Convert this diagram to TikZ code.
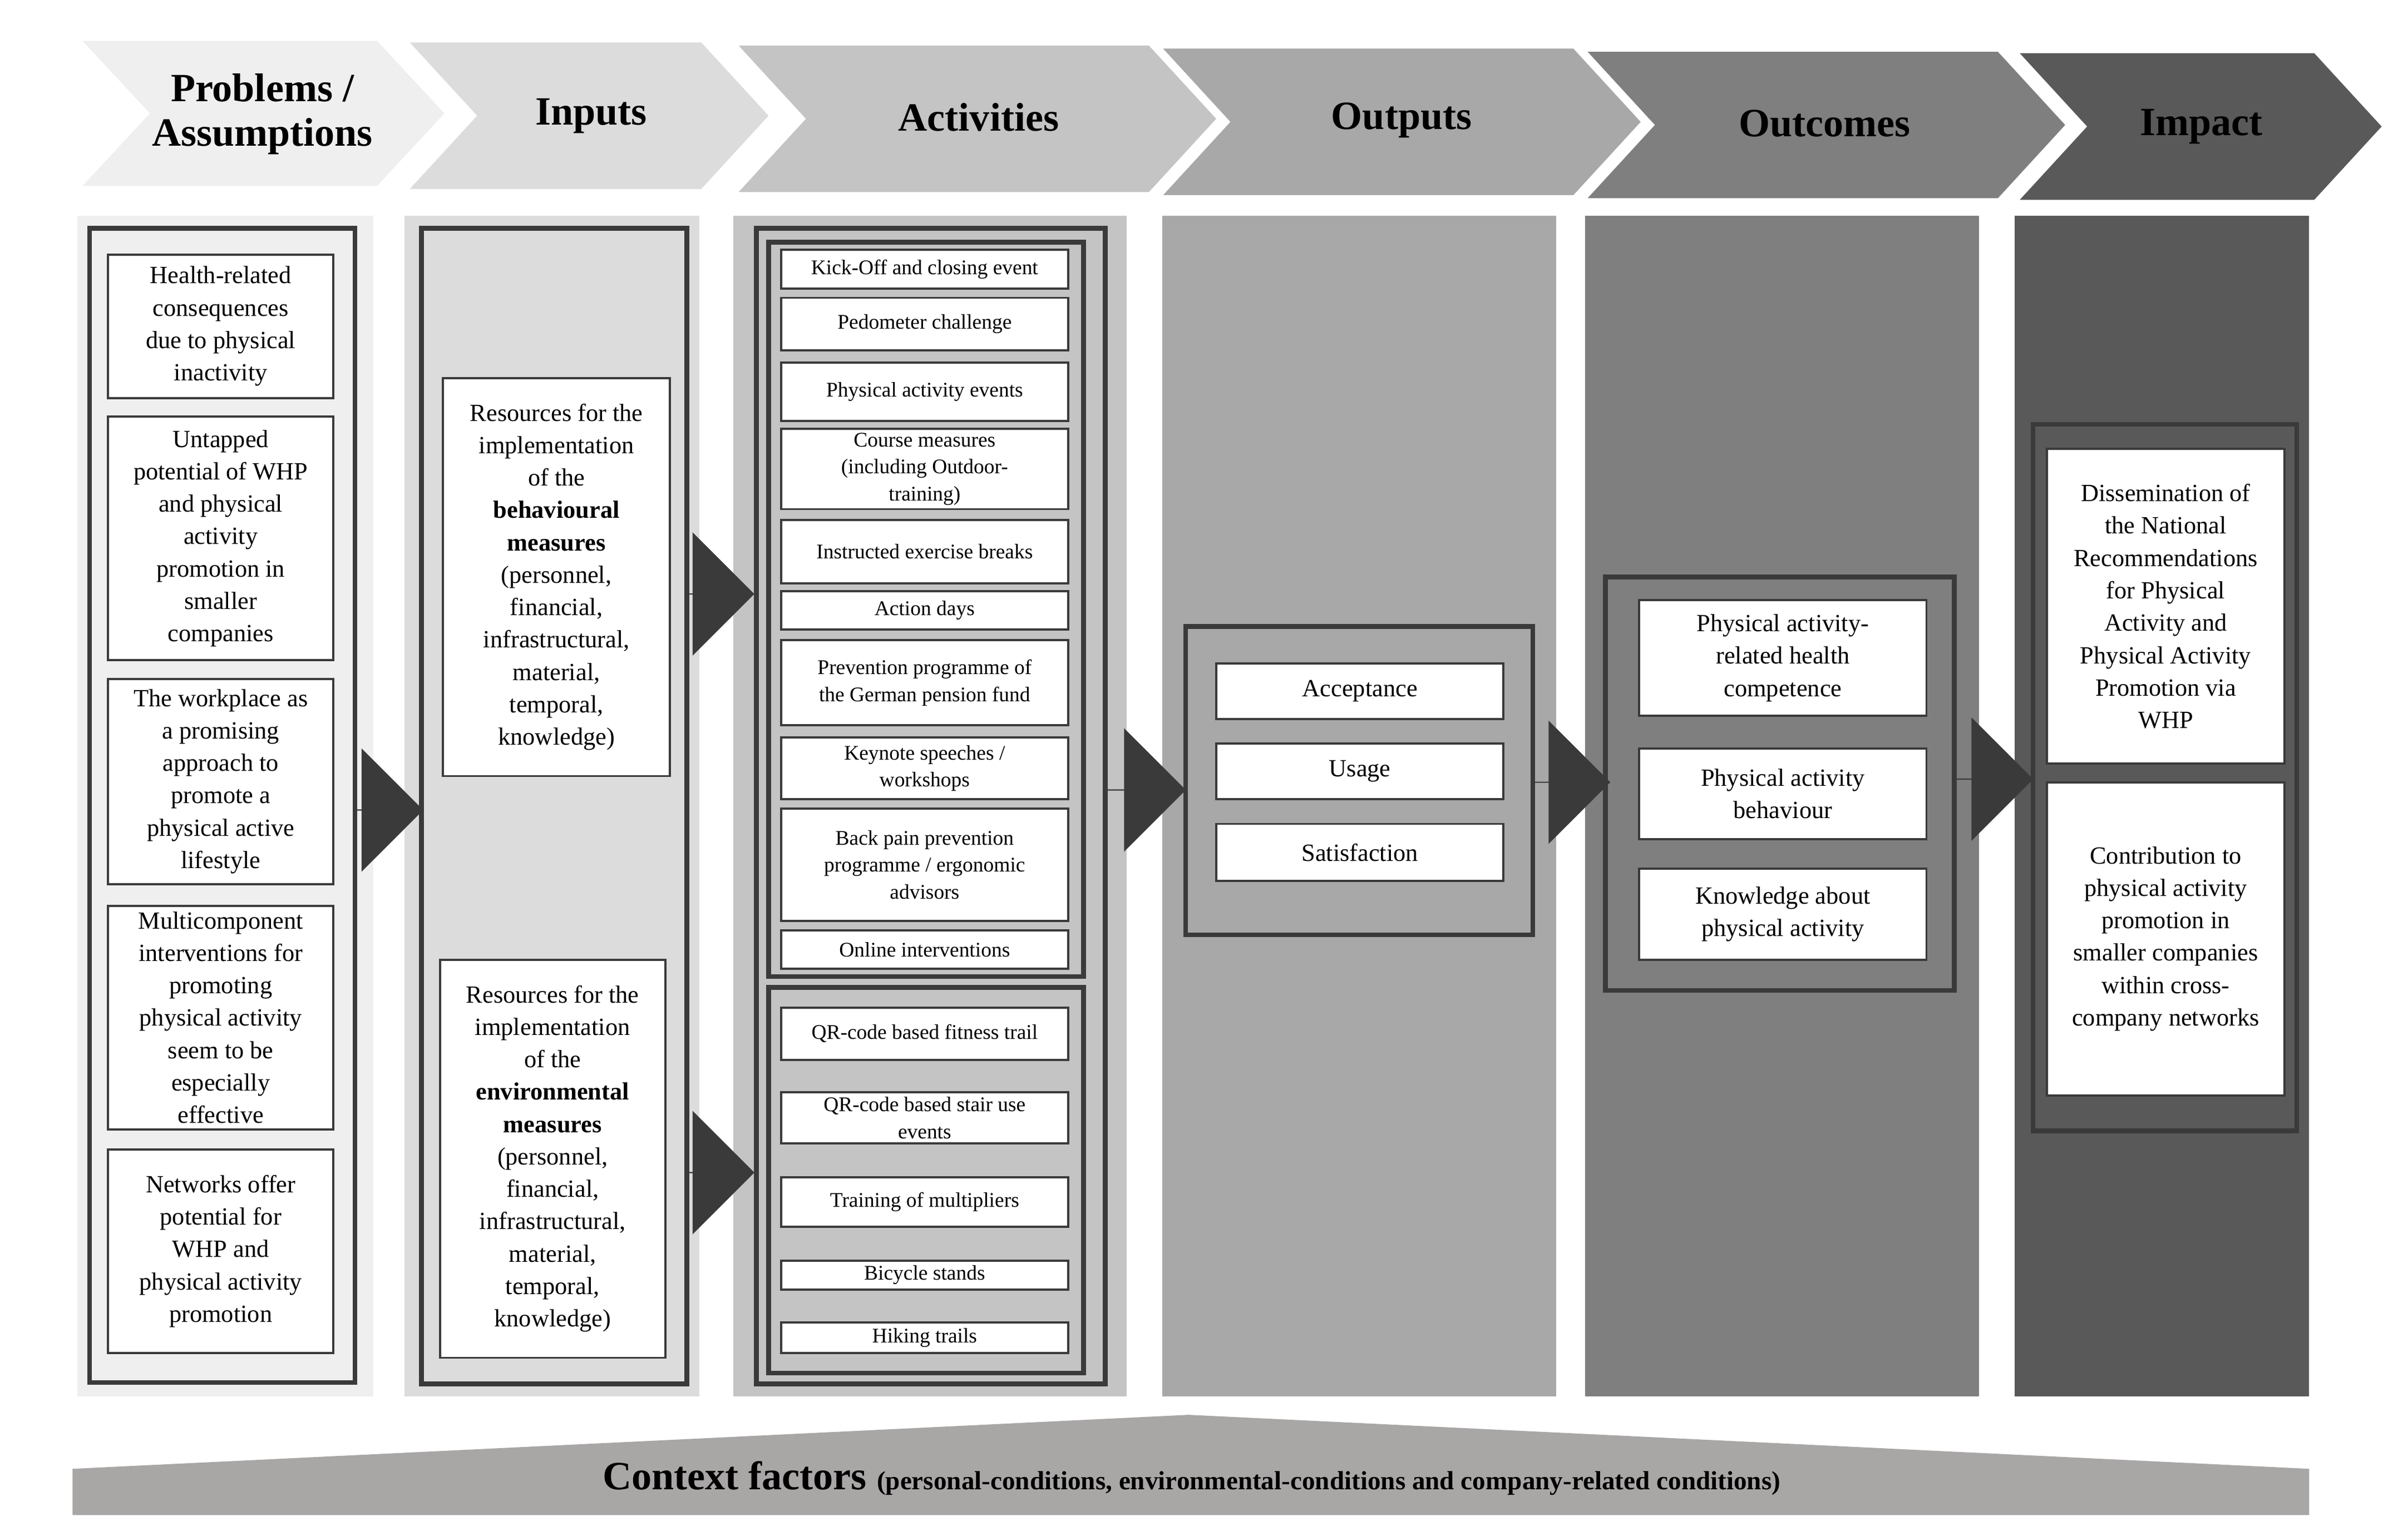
\documentclass[tikz,border=0pt]{standalone}
\usepackage{fontspec}
\setmainfont{Liberation Serif}
\usetikzlibrary{shapes.arrows}
\definecolor{c1}{HTML}{EFEFEF}\definecolor{c2}{HTML}{DCDCDC}\definecolor{c3}{HTML}{C4C4C4}
\definecolor{c4}{HTML}{A8A8A8}\definecolor{c5}{HTML}{7F7F7F}\definecolor{c6}{HTML}{595959}
\definecolor{dk}{HTML}{3A3A3A}\definecolor{ctx}{HTML}{A9A6A6}
\newcommand{\bx}[7][]{\node[box,#1,minimum width={(#4-#2)*1pt},minimum height={(#5-#3)*1pt}] (#6) at ({(#2+#4)/2},{(#3+#5)/2}) {#7};}
\newcommand{\chev}[6]{\fill[#5,draw=white,line width=3pt] (#1,#3)--({#2-45},#3)--(#2,{(#3+#4)/2})--({#2-45},#4)--(#1,#4)--({#1+45},{(#3+#4)/2})--cycle;
 \node[title] (t#6) at ({(#1+#2)/2+10},{(#3+#4)/2}) {};}
\begin{document}
\begin{tikzpicture}[x=1pt,y=-1pt,
 box/.style={draw=dk,line width=1.4pt,fill=white,align=center,inner sep=0pt,font=\fontsize{16}{21}\selectfont},
 sbox/.style={box,font=\fontsize{13.5}{17.5}\selectfont},
 frame/.style={draw=dk,line width=3pt,inner sep=0pt},
 title/.style={font=\fontsize{26}{29}\bfseries\selectfont,align=center},
 barr/.style={single arrow,fill=dk,draw=none,minimum height=45pt,minimum width=80pt,single arrow head extend=20pt,inner sep=0pt,text height=0pt,text depth=0pt,shape border rotate=0}]
\useasboundingbox (0,0) rectangle (1560,992);
\fill[white] (0,0) rectangle (1560,992);
% chevrons
\chev{50}{290}{25}{122}{c1}{1}
\chev{262}{500}{26}{124}{c2}{2}
\chev{475}{790}{28}{126}{c3}{3}
\chev{750}{1065}{30}{128}{c4}{4}
\chev{1025}{1340}{32}{130}{c5}{5}
\chev{1305}{1545}{33}{131}{c6}{6}
\node[title] at (170,74) {Problems /\\Assumptions};
\node[title] at (383,75) {Inputs};
\node[title] at (634,76) {Activities};
\node[title] at (908,78) {Outputs};
\node[title] at (1182,80) {Outcomes};
\node[title] at (1426,82) {Impact};
% column panels
\fill[c1] (50,140) rectangle (242,905);
\fill[c2] (262,140) rectangle (453,905);
\fill[c3] (475,140) rectangle (730,905);
\fill[c4] (753,140) rectangle (1008,905);
\fill[c5] (1027,140) rectangle (1282,905);
\fill[c6] (1305,140) rectangle (1496,905);
% frames
\node[frame,minimum width=172pt,minimum height=748pt] (f1) at (144,522) {};
\node[frame,minimum width=172pt,minimum height=749pt] (f2) at (359,522.5) {};
\node[frame,minimum width=226pt,minimum height=749pt] (f3) at (603,522.5) {};
\node[frame,minimum width=204pt,minimum height=476pt] (f3a) at (600,395) {};
\node[frame,minimum width=204pt,minimum height=250pt] (f3b) at (600,765) {};
\node[frame,minimum width=225pt,minimum height=200pt] (f4) at (880.5,506) {};
\node[frame,minimum width=226pt,minimum height=268pt] (f5) at (1153,508) {};
\node[frame,minimum width=171pt,minimum height=458pt] (f6) at (1402.5,504) {};
% column 1
\bx{70}{165}{216}{258}{p1}{Health-related\\consequences\\due to physical\\inactivity}
\bx{70}{270}{216}{428}{p2}{Untapped\\potential of WHP\\and physical\\activity\\promotion in\\smaller\\companies}
\bx{70}{440}{216}{573}{p3}{The workplace as\\a promising\\approach to\\promote a\\physical active\\lifestyle}
\bx{70}{587}{216}{732}{p4}{Multicomponent\\interventions for\\promoting\\physical activity\\seem to be\\especially\\effective}
\bx{70}{745}{216}{877}{p5}{Networks offer\\potential for\\WHP and\\physical activity\\promotion}
% column 2
\bx{287}{245}{434}{503}{i1}{Resources for the\\implementation\\of the\\\textbf{behavioural}\\\textbf{measures}\\(personnel,\\financial,\\infrastructural,\\material,\\temporal,\\knowledge)}
\bx{285}{622}{431}{880}{i2}{Resources for the\\implementation\\of the\\\textbf{environmental}\\\textbf{measures}\\(personnel,\\financial,\\infrastructural,\\material,\\temporal,\\knowledge)}
% column 3
\bx[sbox]{506}{162}{692}{187}{a1}{Kick-Off and closing event}
\bx[sbox]{506}{193}{692}{227}{a2}{Pedometer challenge}
\bx[sbox]{506}{235}{692}{273}{a3}{Physical activity events}
\bx[sbox]{506}{278}{692}{330}{a4}{Course measures\\(including Outdoor-\\training)}
\bx[sbox]{506}{337}{692}{378}{a5}{Instructed exercise breaks}
\bx[sbox]{506}{383}{692}{408}{a6}{Action days}
\bx[sbox]{506}{415}{692}{470}{a7}{Prevention programme of\\the German pension fund}
\bx[sbox]{506}{478}{692}{518}{a8}{Keynote speeches /\\workshops}
\bx[sbox]{506}{524}{692}{597}{a9}{Back pain prevention\\programme / ergonomic\\advisors}
\bx[sbox]{506}{603}{692}{628}{a10}{Online interventions}
\bx[sbox]{506}{653}{692}{687}{b1}{QR-code based fitness trail}
\bx[sbox]{506}{708}{692}{741}{b2}{QR-code based stair use\\events}
\bx[sbox]{506}{763}{692}{795}{b3}{Training of multipliers}
\bx[sbox]{506}{817}{692}{836}{b4}{Bicycle stands}
\bx[sbox]{506}{857}{692}{877}{b5}{Hiking trails}
% column 4
\bx{788}{430}{974}{466}{o1}{Acceptance}
\bx{788}{482}{974}{518}{o2}{Usage}
\bx{788}{534}{974}{571}{o3}{Satisfaction}
% column 5
\bx{1062}{389}{1248}{464}{u1}{Physical activity-\\related health\\competence}
\bx{1062}{485}{1248}{544}{u2}{Physical activity\\behaviour}
\bx{1062}{563}{1248}{622}{u3}{Knowledge about\\physical activity}
% column 6
\bx{1326}{291}{1480}{495}{m1}{Dissemination of\\the National\\Recommendations\\for Physical\\Activity and\\Physical Activity\\Promotion via\\WHP}
\bx{1326}{507}{1480}{710}{m2}{Contribution to\\physical activity\\promotion in\\smaller companies\\within cross-\\company networks}
% block arrows
\node[barr] (ar1) at (251.5,525) {};
\node[barr] (ar2) at (466,385) {};
\node[barr] (ar3) at (466,760) {};
\node[barr,minimum height=52pt] (ar4) at (742,512) {};
\node[barr,minimum height=50pt] (ar5) at (1018,507) {};
\node[barr,minimum height=51pt] (ar6) at (1291.5,505) {};
% context
\fill[ctx] (47,952)--(770,917)--(1496,952)--(1496,982)--(47,982)--cycle;
\node[font=\fontsize{26}{29}\bfseries\selectfont] (ctxt) at (772,958) {Context factors \fontsize{17}{20}\selectfont(personal-conditions, environmental-conditions and company-related conditions)};
\end{tikzpicture}
\end{document}
